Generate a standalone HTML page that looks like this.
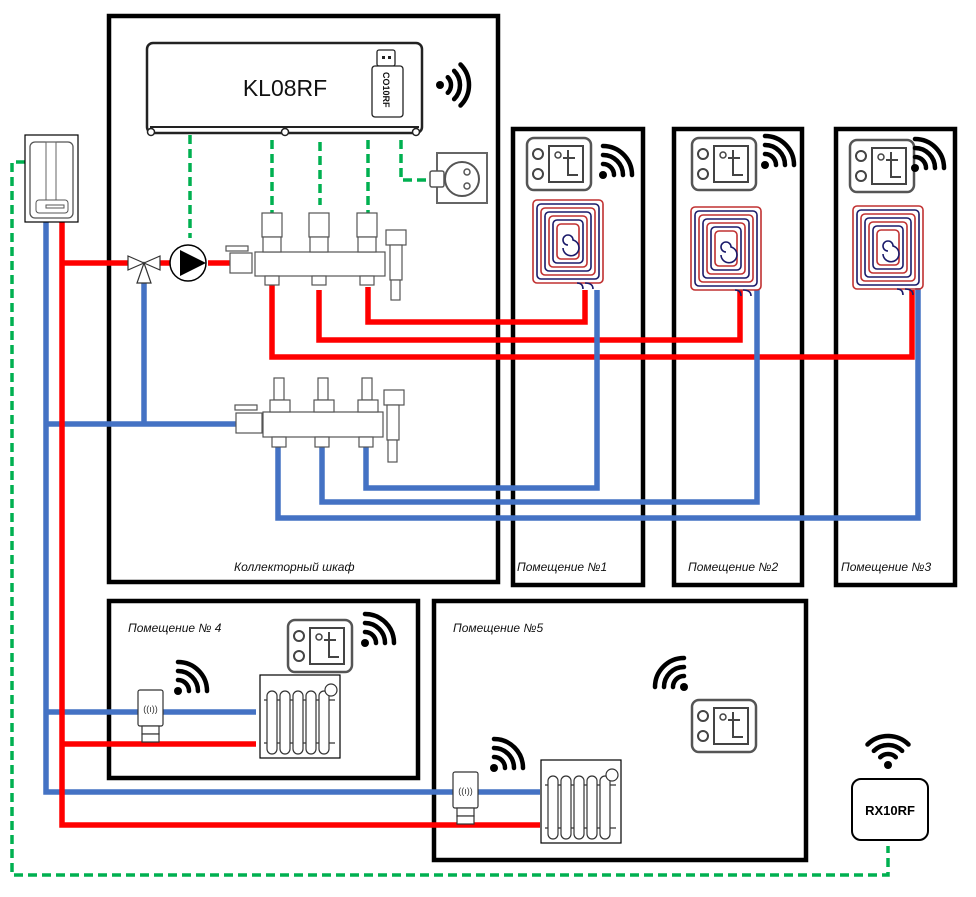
<!DOCTYPE html>
<html><head><meta charset="utf-8"><style>
html,body{margin:0;padding:0;background:#fff}
svg{display:block}
text{font-family:"Liberation Sans",sans-serif}
.lbl{font-style:italic;font-size:12px;fill:#111}
</style></head><body>
<svg width="976" height="897" viewBox="0 0 976 897" xmlns="http://www.w3.org/2000/svg">
<defs>
<g id="wifi" fill="none" stroke="#000" stroke-width="4.5" stroke-linecap="round">
  <circle cx="0" cy="0" r="4" fill="#000" stroke="none"/>
  <path d="M0,-11 A11 11 0 0 1 11,0"/>
  <path d="M0,-20 A20 20 0 0 1 20,0"/>
  <path d="M0,-29 A29 29 0 0 1 29,0"/>
</g>
<g id="thermo">
  <rect x="0" y="0" width="64" height="52" rx="7" fill="#fff" stroke="#555" stroke-width="2.5"/>
  <circle cx="11" cy="16" r="5" fill="none" stroke="#444" stroke-width="2"/>
  <circle cx="11" cy="36" r="5" fill="none" stroke="#444" stroke-width="2"/>
  <rect x="22" y="8" width="34" height="36" fill="none" stroke="#444" stroke-width="2"/>
  <circle cx="31" cy="17" r="3" fill="none" stroke="#444" stroke-width="1.5"/>
  <path d="M41,12 V37 H51 M36,20 H48" fill="none" stroke="#444" stroke-width="2"/>
</g>
<g id="coil" fill="none" stroke-width="1.6">
  <rect x="0" y="0" width="70" height="83" rx="4" stroke="#c03030"/>
  <rect x="4" y="4" width="62" height="75" rx="4" stroke="#1a1a6a"/>
  <rect x="8" y="8" width="54" height="67" rx="4" stroke="#c03030"/>
  <rect x="12" y="12" width="46" height="59" rx="4" stroke="#1a1a6a"/>
  <rect x="16" y="16" width="38" height="51" rx="4" stroke="#c03030"/>
  <rect x="20" y="20" width="30" height="43" rx="4" stroke="#1a1a6a"/>
  <rect x="24" y="24" width="22" height="35" rx="4" stroke="#c03030"/>
  <path d="M35,45 a5,5 0 1 1 5,-5 a8,8 0 1 1 -10,8" stroke="#1a1a6a"/>
  <path d="M44,83 q6,0 6,6 M52,83 q8,0 8,6" stroke="#1a1a6a"/>
</g>
<g id="rad">
  <rect x="0" y="0" width="80" height="83" fill="#fff" stroke="#000" stroke-width="1.2"/>
  <g fill="#fff" stroke="#333" stroke-width="1.2">
    <line x1="4" y1="25" x2="75" y2="25"/><line x1="4" y1="68" x2="75" y2="68"/>
    <rect x="7" y="16" width="10" height="63" rx="5"/>
    <rect x="20" y="16" width="10" height="63" rx="5"/>
    <rect x="33" y="16" width="10" height="63" rx="5"/>
    <rect x="46" y="16" width="10" height="63" rx="5"/>
    <rect x="59" y="16" width="10" height="63" rx="5"/>
    <circle cx="71" cy="15" r="6"/>
  </g>
</g>
<g id="valve" fill="#fff" stroke="#333" stroke-width="1.2">
  <rect x="0" y="0" width="25" height="36" rx="2"/>
  <rect x="4" y="36" width="17" height="8"/>
  <rect x="4" y="44" width="17" height="8"/>
  <text x="12.5" y="22" font-size="9" text-anchor="middle" fill="#333" stroke="none">((ı))</text>
</g>
</defs>

<!-- boxes -->
<g fill="none" stroke="#000" stroke-width="4.5">
  <rect x="109" y="16" width="389" height="566"/>
  <rect x="513" y="129" width="130" height="456"/>
  <rect x="674" y="129" width="128" height="456"/>
  <rect x="836" y="129" width="119" height="456"/>
  <rect x="109" y="601" width="309" height="177"/>
  <rect x="434" y="601" width="372" height="259"/>
</g>
<text class="lbl" x="234" y="571">Коллекторный шкаф</text>
<text class="lbl" x="517" y="571">Помещение №1</text>
<text class="lbl" x="688" y="571">Помещение №2</text>
<text class="lbl" x="841" y="571">Помещение №3</text>
<text class="lbl" x="128" y="632">Помещение № 4</text>
<text class="lbl" x="453" y="632">Помещение №5</text>

<!-- green dashed -->
<g fill="none" stroke="#00b050" stroke-width="3.5" stroke-dasharray="9,5">
  <path d="M25,162 H12 V875 H888 V846"/>
  <path d="M190,135 V238"/>
  <path d="M272,140 V213"/>
  <path d="M320,142 V205"/>
  <path d="M368,140 V213"/>
  <path d="M401,140 V180 H428"/>
</g>

<!-- pipes -->
<g fill="none" stroke-width="5.5">
  <path d="M585,290 V322 H368 V287" stroke="#f00"/>
  <path d="M740,290 V340 H319 V290" stroke="#f00"/>
  <path d="M912,290 V357 H272 V285" stroke="#f00"/>
  <path d="M597,290 V488 H366 V447" stroke="#4472c4"/>
  <path d="M757,290 V502 H322 V447" stroke="#4472c4"/>
  <path d="M918,288 V518 H278 V447" stroke="#4472c4"/>
  <path d="M46,222 V792 H453 M478,792 H540" stroke="#4472c4"/>
  <path d="M46,712 H138 M163,712 H256" stroke="#4472c4"/>
  <path d="M46,424 H236 M144,280 V424" stroke="#4472c4"/>
  <path d="M62,222 V825 H540 M62,744 H256" stroke="#f00"/>
  <path d="M62,263 H128 M160,263 H170 M208,263 H230" stroke="#f00"/>
</g>

<!-- boiler -->
<rect x="25" y="135" width="53" height="87" fill="#fff" stroke="#000" stroke-width="1.2"/>
<rect x="30" y="142" width="43" height="76" rx="5" fill="#fff" stroke="#555" stroke-width="1.3"/>
<rect x="46" y="142" width="10" height="58" fill="none" stroke="#666"/>
<rect x="36" y="200" width="32" height="13" rx="3" fill="none" stroke="#555"/>
<rect x="46" y="205" width="18" height="3" fill="none" stroke="#555"/>

<!-- mixing valve + pump -->
<path d="M128,256 L160,270 L160,256 L128,270 Z M137,283 L151,283 L144,263 Z" fill="#fff" stroke="#333" stroke-width="1.2"/>
<circle cx="188" cy="263" r="18" fill="#fff" stroke="#000" stroke-width="1.5"/>
<path d="M180,250 L206,263 L180,276 Z" fill="#000"/>

<!-- upper manifold -->
<g fill="#fff" stroke="#555" stroke-width="1.2">
  <rect x="230" y="253" width="22" height="20"/>
  <rect x="226" y="246" width="22" height="5"/>
  <rect x="255" y="252" width="130" height="24"/>
  <rect x="262" y="213" width="20" height="24"/><rect x="263" y="237" width="18" height="15"/>
  <rect x="309" y="213" width="20" height="24"/><rect x="310" y="237" width="18" height="15"/>
  <rect x="357" y="213" width="20" height="24"/><rect x="358" y="237" width="18" height="15"/>
  <rect x="265" y="276" width="14" height="9"/><rect x="312" y="276" width="14" height="9"/><rect x="360" y="276" width="14" height="9"/>
  <rect x="386" y="230" width="20" height="15"/><rect x="390" y="245" width="12" height="35"/><rect x="391" y="280" width="9" height="20"/>
</g>
<!-- lower manifold -->
<g fill="#fff" stroke="#555" stroke-width="1.2">
  <rect x="236" y="413" width="26" height="20"/>
  <rect x="235" y="405" width="22" height="5"/>
  <rect x="263" y="412" width="120" height="25"/>
  <rect x="274" y="378" width="10" height="22"/><rect x="270" y="400" width="20" height="12"/>
  <rect x="318" y="378" width="10" height="22"/><rect x="314" y="400" width="20" height="12"/>
  <rect x="362" y="378" width="10" height="22"/><rect x="358" y="400" width="20" height="12"/>
  <rect x="272" y="437" width="14" height="10"/><rect x="315" y="437" width="14" height="10"/><rect x="359" y="437" width="14" height="10"/>
  <rect x="384" y="390" width="20" height="15"/><rect x="387" y="405" width="12" height="35"/><rect x="388" y="440" width="9" height="22"/>
</g>

<!-- KL08RF -->
<rect x="147" y="43" width="275" height="90" rx="6" fill="#fff" stroke="#222" stroke-width="2.5"/>
<line x1="150" y1="127" x2="419" y2="127" stroke="#222" stroke-width="2"/>
<circle cx="151" cy="132" r="3.5" fill="#fff" stroke="#222" stroke-width="1.5"/>
<circle cx="285" cy="132" r="3.5" fill="#fff" stroke="#222" stroke-width="1.5"/>
<circle cx="416" cy="132" r="3.5" fill="#fff" stroke="#222" stroke-width="1.5"/>
<text x="285" y="96" font-size="23" text-anchor="middle" fill="#111">KL08RF</text>
<rect x="377" y="50" width="18" height="16" rx="2" fill="#fff" stroke="#222" stroke-width="1.3"/>
<rect x="382" y="56" width="3" height="3" fill="#222"/><rect x="388" y="56" width="3" height="3" fill="#222"/>
<rect x="372" y="66" width="31" height="51" rx="3" fill="#fff" stroke="#222" stroke-width="1.3"/>
<text x="0" y="0" font-size="9" font-weight="bold" fill="#111" transform="translate(383,72) rotate(90)">CO10RF</text>
<use href="#wifi" transform="translate(440,85) rotate(45)"/>

<!-- socket -->
<rect x="437" y="153" width="50" height="50" fill="#fff" stroke="#666" stroke-width="2"/>
<circle cx="462" cy="179" r="17" fill="none" stroke="#555" stroke-width="2"/>
<circle cx="467" cy="172" r="3" fill="none" stroke="#555" stroke-width="1.5"/>
<circle cx="467" cy="186" r="3" fill="none" stroke="#555" stroke-width="1.5"/>
<rect x="430" y="171" width="14" height="16" rx="2" fill="#fff" stroke="#555" stroke-width="1.5"/>

<!-- rooms 1-3 -->
<use href="#thermo" x="527" y="138"/>
<use href="#wifi" transform="translate(603,175)"/>
<use href="#coil" x="533" y="200"/>
<use href="#thermo" x="692" y="138"/>
<use href="#wifi" transform="translate(765,165)"/>
<use href="#coil" x="691" y="207"/>
<use href="#thermo" x="850" y="140"/>
<use href="#wifi" transform="translate(915,168)"/>
<use href="#coil" x="853" y="206"/>

<!-- room 4 -->
<use href="#thermo" x="288" y="620"/>
<use href="#wifi" transform="translate(365,643)"/>
<use href="#wifi" transform="translate(178,691)"/>
<use href="#valve" x="138" y="690"/>
<use href="#rad" x="260" y="675"/>

<!-- room 5 -->
<use href="#wifi" transform="translate(684,687) scale(-1,1)"/>
<use href="#thermo" x="692" y="700"/>
<use href="#wifi" transform="translate(494,768)"/>
<use href="#valve" x="453" y="772"/>
<use href="#rad" x="541" y="760"/>

<!-- RX10RF -->
<use href="#wifi" transform="translate(888,765) rotate(-45)"/>
<rect x="852" y="779" width="76" height="61" rx="9" fill="#fff" stroke="#000" stroke-width="2"/>
<text x="890" y="815" font-size="13" font-weight="bold" text-anchor="middle" fill="#000">RX10RF</text>
</svg>
</body></html>
